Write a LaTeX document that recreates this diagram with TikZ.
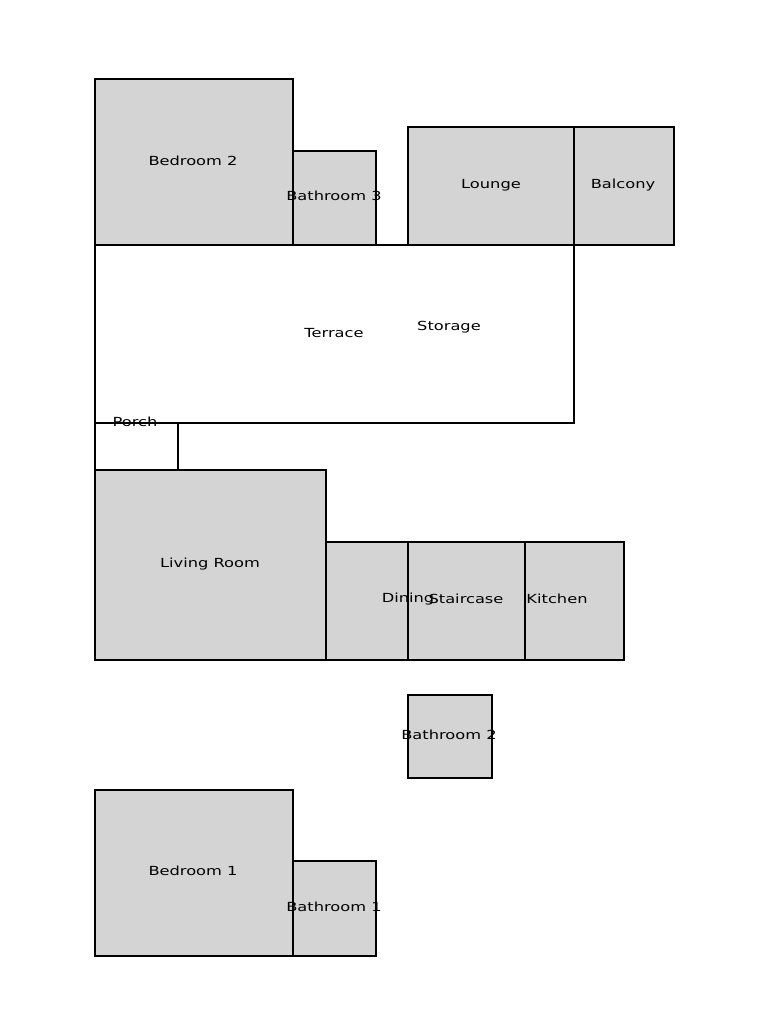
\documentclass[tikz,border=0pt]{standalone}
\usepackage{fontspec}
\setmainfont{DejaVu Sans}
\begin{document}
\begin{tikzpicture}[x=1pt,y=-1pt,
  room/.style={draw=black,line width=1.8pt,fill=black!17},
  open/.style={draw=black,line width=1.8pt,fill=white},
  lbl/.style={font=\fontsize{12.5}{14}\selectfont,inner sep=0pt,xscale=1.3}]
\useasboundingbox (0,0) rectangle (768,1024);
\draw[open] (95,245) rectangle (574,423);
\draw[open] (95,423) rectangle (178,470);
\draw[room] (95,79) rectangle (293,245);
\draw[room] (293,151) rectangle (376,245);
\draw[room] (408,127) rectangle (574,245);
\draw[room] (574,127) rectangle (674,245);
\draw[room] (95,470) rectangle (326,660);
\draw[room] (326,542) rectangle (408,660);
\draw[room] (408,542) rectangle (525,660);
\draw[room] (525,542) rectangle (624,660);
\draw[room] (408,695) rectangle (492,778);
\draw[room] (95,790) rectangle (293,956);
\draw[room] (293,861) rectangle (376,956);
\node[lbl] (b2) at (193,161) {Bedroom 2};
\node[lbl] (ba3) at (334,196) {Bathroom 3};
\node[lbl] (lo) at (491,185) {Lounge};
\node[lbl] (bal) at (623,185) {Balcony};
\node[lbl] (te) at (334,333) {Terrace};
\node[lbl] (st) at (449,327) {Storage};
\node[lbl] (po) at (135,422) {Porch};
\node[lbl] (lr) at (210,564) {Living Room};
\node[lbl] (di) at (408,599) {Dining};
\node[lbl] (sc) at (466,599) {Staircase};
\node[lbl] (ki) at (557,599) {Kitchen};
\node[lbl] (ba2) at (449,735) {Bathroom 2};
\node[lbl] (b1) at (193,871) {Bedroom 1};
\node[lbl] (ba1) at (334,907) {Bathroom 1};
\end{tikzpicture}
\end{document}
